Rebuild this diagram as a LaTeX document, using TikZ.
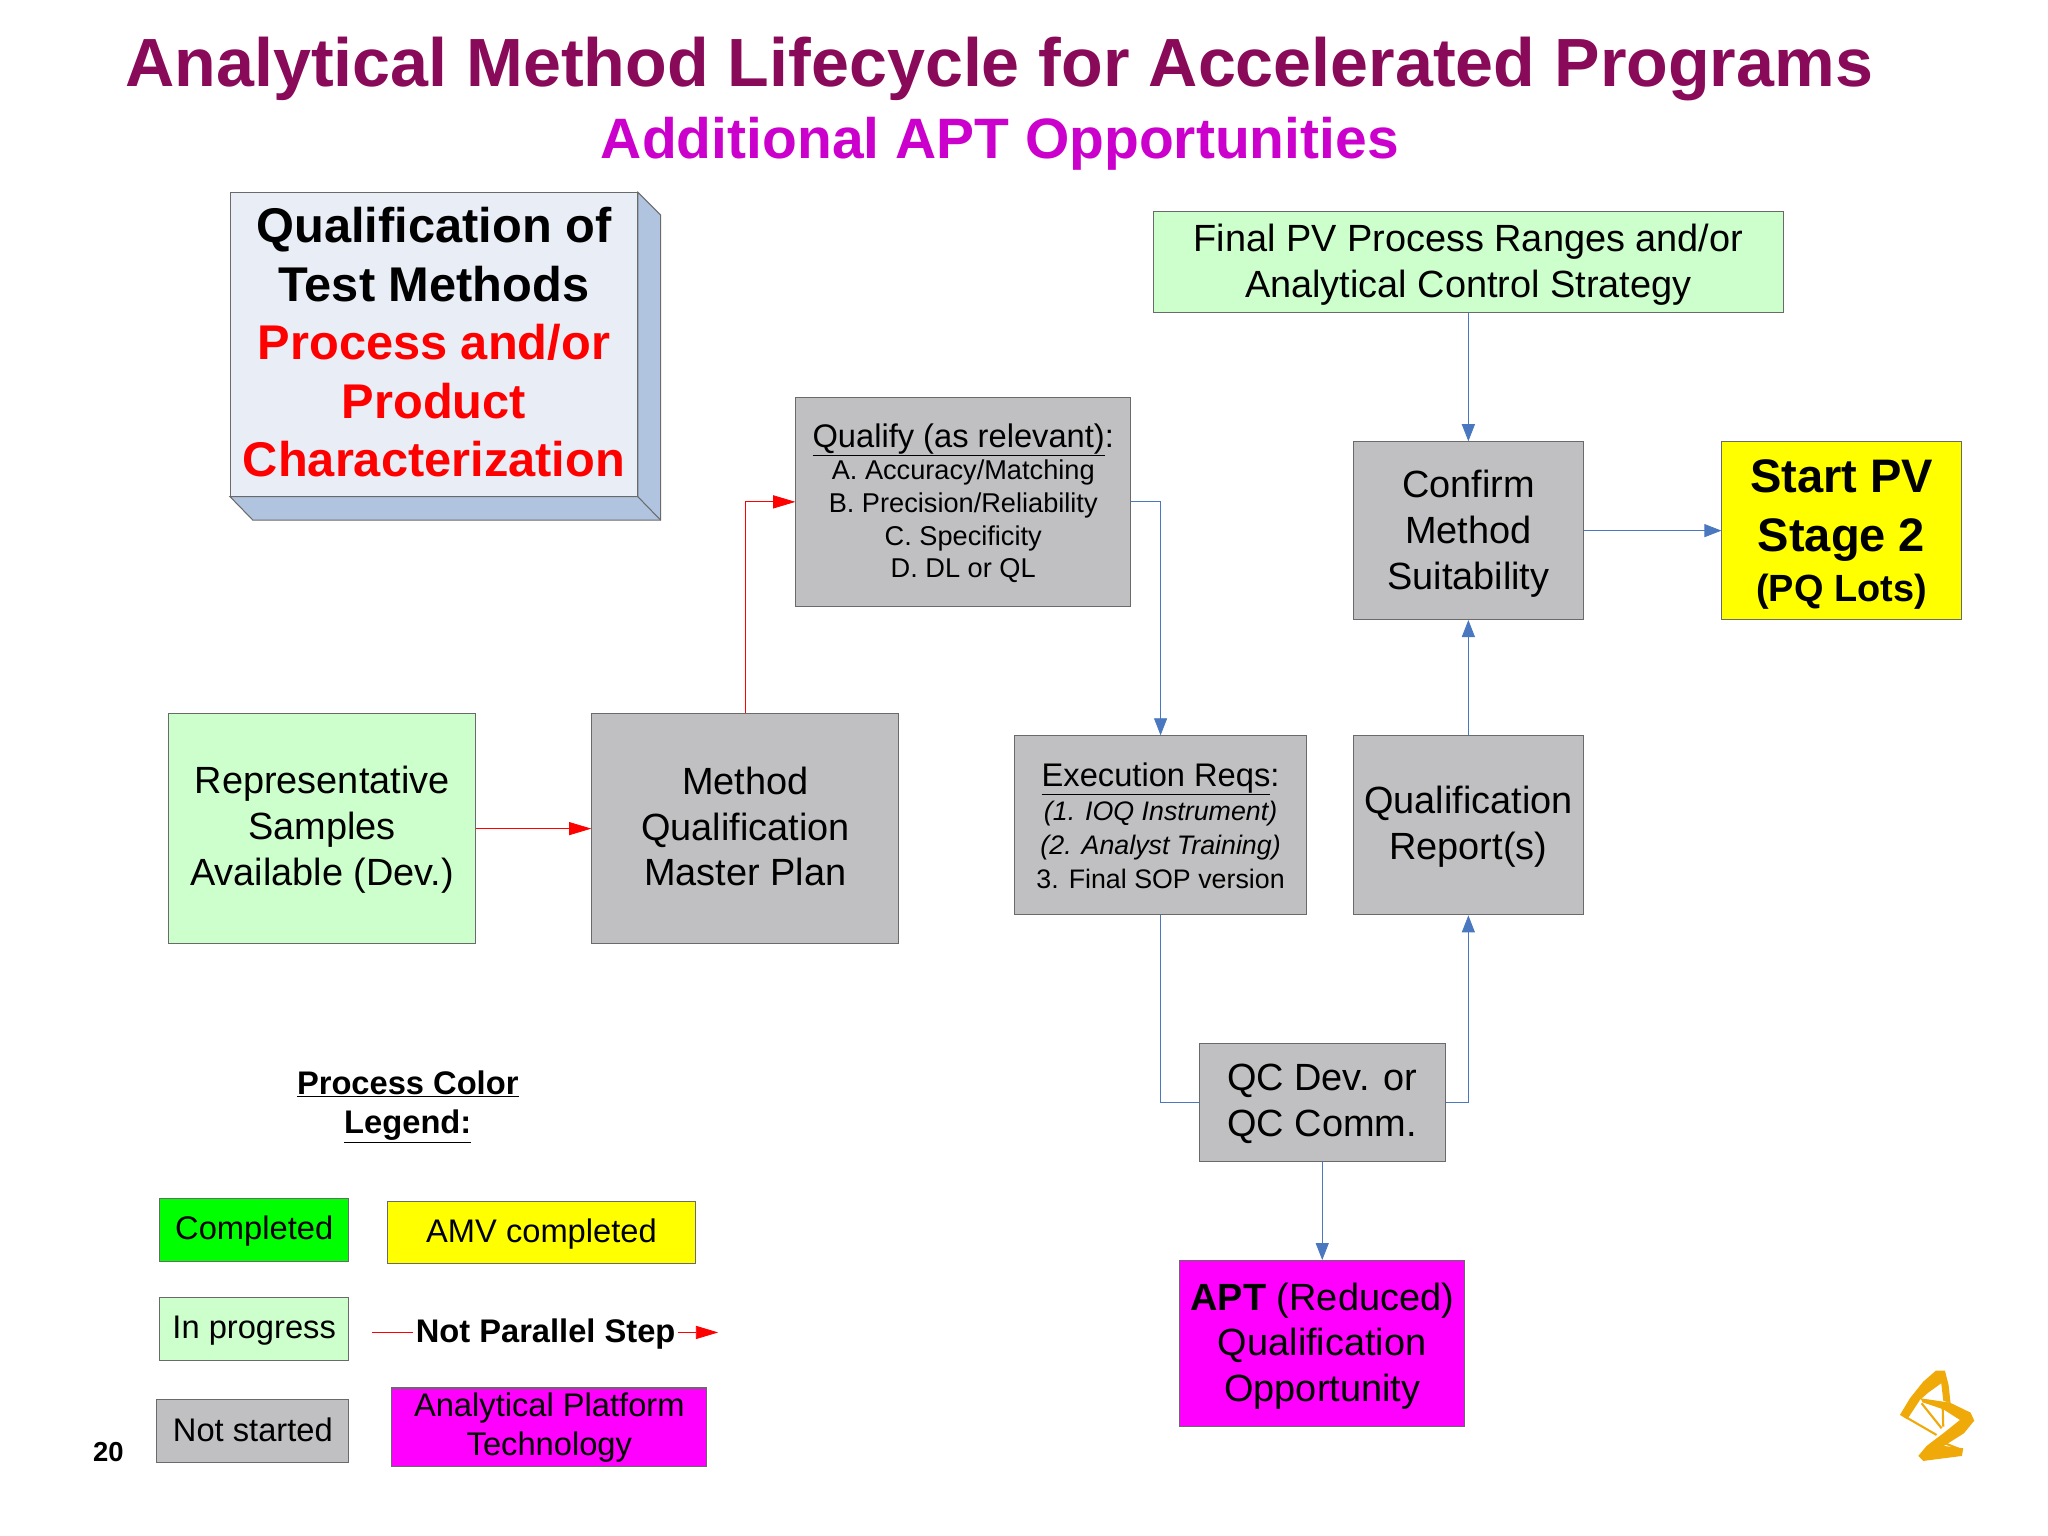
\documentclass[tikz,border=0pt]{standalone}
\usepackage{fontspec}
\setmainfont{Liberation Sans}
\usetikzlibrary{arrows.meta}
\definecolor{titlec}{HTML}{8A0A5A}
\definecolor{subc}{HTML}{CC00CC}
\definecolor{lightgreen}{HTML}{CCFFCC}
\definecolor{greybox}{HTML}{C0BFC1}
\definecolor{frontc}{HTML}{E9EDF6}
\definecolor{sidec}{HTML}{B0C4E0}
\definecolor{edgec}{HTML}{6A6A6A}
\definecolor{bluec}{HTML}{4A78C0}
\definecolor{logoc}{HTML}{EFAA0A}
\definecolor{pureyellow}{HTML}{FFFF00}
\definecolor{puremagenta}{HTML}{FF00FF}
\definecolor{puregreen}{HTML}{00FF00}
\newcommand{\fs}[2]{\fontsize{#1}{#2}\selectfont}
\tikzset{
  x=1pt,y=-1pt,
  boxn/.style={draw=edgec,line width=0.8pt,inner sep=0pt,align=center,text=black},
  main/.style={boxn,font=\fs{29}{35}},
  legendn/.style={boxn,font=\fs{25}{30}},
  blueline/.style={draw=bluec,line width=0.6pt},
  bluearrow/.style={blueline,-{Triangle[length=13pt,width=10pt,fill=bluec]}},
  redline/.style={draw=red,line width=0.6pt},
  redarrow/.style={redline,-{Triangle[length=17pt,width=10pt,fill=red]}},
  plain/.style={inner sep=0pt,align=center,text=black}
}
\begin{document}
\begin{tikzpicture}
\useasboundingbox (0,0) rectangle (1567,1175);
\fill[white] (0,0) rectangle (1567,1175);
% title
\node[plain,text=titlec,font=\fs{52.2}{56}\bfseries] (title) at (764.5,52.5) {Analytical Method Lifecycle for Accelerated Programs};
\node[plain,text=subc,font=\fs{43.6}{48}\bfseries] (sub) at (765,110) {Additional APT Opportunities};
% 3D box
\filldraw[fill=sidec,draw=edgec,line width=0.8pt] (488,147) -- (505.5,164.5) -- (505.5,398) -- (193.5,398) -- (176,380) -- (488,380) -- cycle;
\draw[draw=edgec,line width=0.8pt] (488,380) -- (505.5,398);
\node[boxn,fill=frontc,minimum width=312pt,minimum height=233pt,label={[plain,font=\fs{37.3}{44.8}\bfseries,yshift=1.5pt]center:{Qualification of\\Test Methods\\\textcolor{red}{Process and/or}\\\textcolor{red}{Product}\\\textcolor{red}{Characterization}}}] (qualt) at (332,263.5) {};
% main boxes
\node[main,fill=lightgreen,minimum width=482pt,minimum height=77pt,label={[plain,font=\fs{29}{35},yshift=-2pt]center:{Final PV Process Ranges and/or\\Analytical Control Strategy}}] (final) at (1123.5,200.5) {};
\node[boxn,fill=greybox,minimum width=256pt,minimum height=160pt,label={[plain,font=\fs{20.8}{25},yshift=-1pt]center:{{\fs{25}{30}\underline{Qualify (as relevant)}:}\\A. Accuracy/Matching\\B. Precision/Reliability\\C. Specificity\\D. DL or QL}}] (qualify) at (737,384) {};
\node[main,fill=greybox,minimum width=176pt,minimum height=136pt,label={[plain,font=\fs{29}{35},yshift=-2.5pt]center:{Confirm\\Method\\Suitability}}] (confirm) at (1123.5,406) {};
\node[boxn,fill=pureyellow,minimum width=183pt,minimum height=136pt,label={[plain,font=\fs{36}{45}\bfseries,yshift=-3pt]center:{Start PV\\Stage 2\\[-7pt]{\fs{29}{35}(PQ Lots)}}}] (start) at (1409,406) {};
\node[main,fill=lightgreen,minimum width=235pt,minimum height=176pt,label={[plain,font=\fs{29}{35},yshift=-1pt]center:{Representative\\Samples\\Available (Dev.)}}] (rep) at (246.5,634) {};
\node[main,fill=greybox,minimum width=235pt,minimum height=176pt,label={[plain,font=\fs{29}{35},yshift=1.5pt]center:{Method\\Qualification\\Master Plan}}] (mqmp) at (570.3,634) {};
\node[boxn,fill=greybox,minimum width=223pt,minimum height=137pt,font=\fs{20.5}{26}] (exec) at (888,631.5) {{\fs{25}{30}\underline{Execution Reqs}:}\\\textit{(1. IOQ Instrument)}\\\textit{(2. Analyst Training)}\\3. Final SOP version};
\node[main,fill=greybox,minimum width=176pt,minimum height=137pt,label={[plain,font=\fs{29}{35},yshift=-1pt]center:{Qualification\\Report(s)}}] (report) at (1123.5,631.5) {};
\node[main,fill=greybox,minimum width=188pt,minimum height=90pt,label={[plain,font=\fs{29}{35},yshift=-1pt]center:{QC Dev. or\\QC Comm.}}] (qc) at (1011.7,843.7) {};
\node[main,fill=puremagenta,minimum width=218pt,minimum height=127pt,label={[plain,font=\fs{29}{35},yshift=-2pt]center:{\textbf{APT} (Reduced)\\Qualification\\Opportunity}}] (apt) at (1011.7,1028) {};
% connectors
\draw[bluearrow] (final.south) -- (confirm.north);
\draw[bluearrow] (confirm.east) -- (start.west);
\draw[redarrow] (rep.east) -- (mqmp.west);
\draw[redarrow] (mqmp.north) |- (qualify.west);
\draw[bluearrow] (qualify.east) -| (exec.north);
\draw[blueline] (exec.south) |- (qc.west);
\draw[bluearrow] (qc.east) -| (report.south);
\draw[bluearrow] (report.north) -- (confirm.south);
\draw[bluearrow] (qc.south) -- (apt.north);
% legend
\node[plain,font=\fs{25}{30}\bfseries] (legt) at (312,847) {\underline{Process Color}\\\underline{Legend:}};
\node[legendn,fill=puregreen,minimum width=145pt,minimum height=48pt,label={[plain,font=\fs{25}{30},yshift=-1pt]center:{Completed}}] (lcomp) at (194.5,941) {};
\node[legendn,fill=pureyellow,minimum width=235pt,minimum height=48pt,label={[plain,font=\fs{25}{30},yshift=-1pt]center:{AMV completed}}] (lamv) at (414.3,943) {};
\node[legendn,fill=lightgreen,minimum width=145pt,minimum height=48pt,label={[plain,font=\fs{25}{30},yshift=-1.5pt]center:{In progress}}] (lprog) at (194.5,1017) {};
\node[legendn,fill=greybox,minimum width=147pt,minimum height=48pt,label={[plain,font=\fs{25}{30},yshift=1pt]center:{Not started}}] (lnot) at (193.5,1095) {};
\node[legendn,fill=puremagenta,minimum width=241pt,minimum height=60pt] (lplat) at (420.3,1092) {Analytical Platform\\Technology};
\coordinate (npa) at (285,1019.5);
\coordinate (npb) at (549.5,1019.5);
\draw[redarrow] (npa) -- (npb);
\node[plain,fill=white,inner xsep=2pt,font=\fs{25}{30}\bfseries] (nps) at (417.5,1021) {Not Parallel Step};
\node[plain,font=\fs{21}{25}\bfseries] (pg) at (83,1111) {20};
% logo
\begin{scope}[shift={(1453.7,1032.9)},x=0.255pt,y=-0.255pt]
\fill[logoc] (108,62) -- (135,62) -- (146,105) -- (152,160) -- (130,152) -- (124,100) -- (85,128) -- (60,150) -- (22,208) -- (0,195) -- (30,145) -- (70,95) -- cycle;
\fill[logoc] (62,145) -- (150,158) -- (212,188) -- (223,212) -- (192,250) -- (132,288) -- (190,295) -- (186,318) -- (70,333) -- (55,318) -- (80,288) -- (130,250) -- (180,210) -- (130,178) -- (68,157) -- cycle;
\draw[logoc,line width=1.6pt] (15,200) -- (110,255);
\draw[logoc,line width=1.6pt] (65,160) -- (125,235);
\draw[logoc,line width=1.6pt] (128,160) -- (130,230);
\draw[logoc,line width=1.6pt] (130,278) -- (185,300);
\end{scope}
\end{tikzpicture}
\end{document}
